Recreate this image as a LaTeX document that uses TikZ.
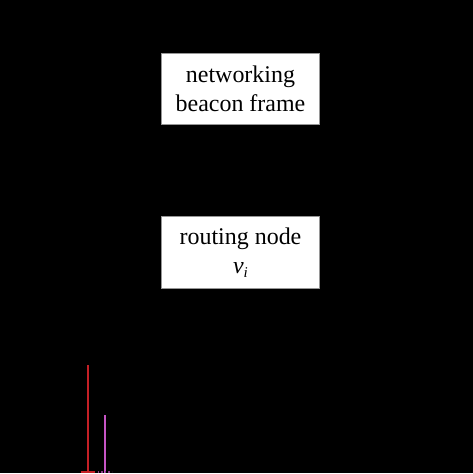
\documentclass[tikz,border=0pt]{standalone}
\usepackage{fontspec}
\setmainfont{Liberation Serif}
\usepackage{xcolor}
\definecolor{cRed}{RGB}{196,32,38}
\definecolor{cPink}{RGB}{198,84,196}
\definecolor{cFrame}{RGB}{150,150,150}

\begin{document}
\begin{tikzpicture}[x=1pt,y=-1pt,
    labelbox/.style={draw=cFrame,line width=0.6pt,fill=white,minimum width=158pt,minimum height=72pt,
        align=center,inner sep=0pt,font=\fontsize{24}{29}\selectfont}]
        \fill[black] (0,0) rectangle (474,474);
        
        \node[labelbox] (frame) at (241,89) {networking\\beacon frame};
        \node[labelbox] (router) at (241,253) {routing node\\\textit{v}\raisebox{-0.35ex}{\fontsize{15}{15}\selectfont\textit{i}}};
        
        \coordinate (redTop) at (88,366);
        \coordinate (redBot) at (88,474);
        \coordinate (pinkTop) at (105,416);
        \coordinate (pinkBot) at (105,474);
        \draw[cRed,line width=2pt] (redTop) -- (redBot);
        \draw[cPink,line width=1.6pt] (pinkTop) -- (pinkBot);
        
        \draw[cRed,line width=2pt] (81,473) -- (95,473);
        \draw[cPink!70!black,line width=1.5pt,dotted] (98,473) -- (112,473);
    \end{tikzpicture}
\end{document}
